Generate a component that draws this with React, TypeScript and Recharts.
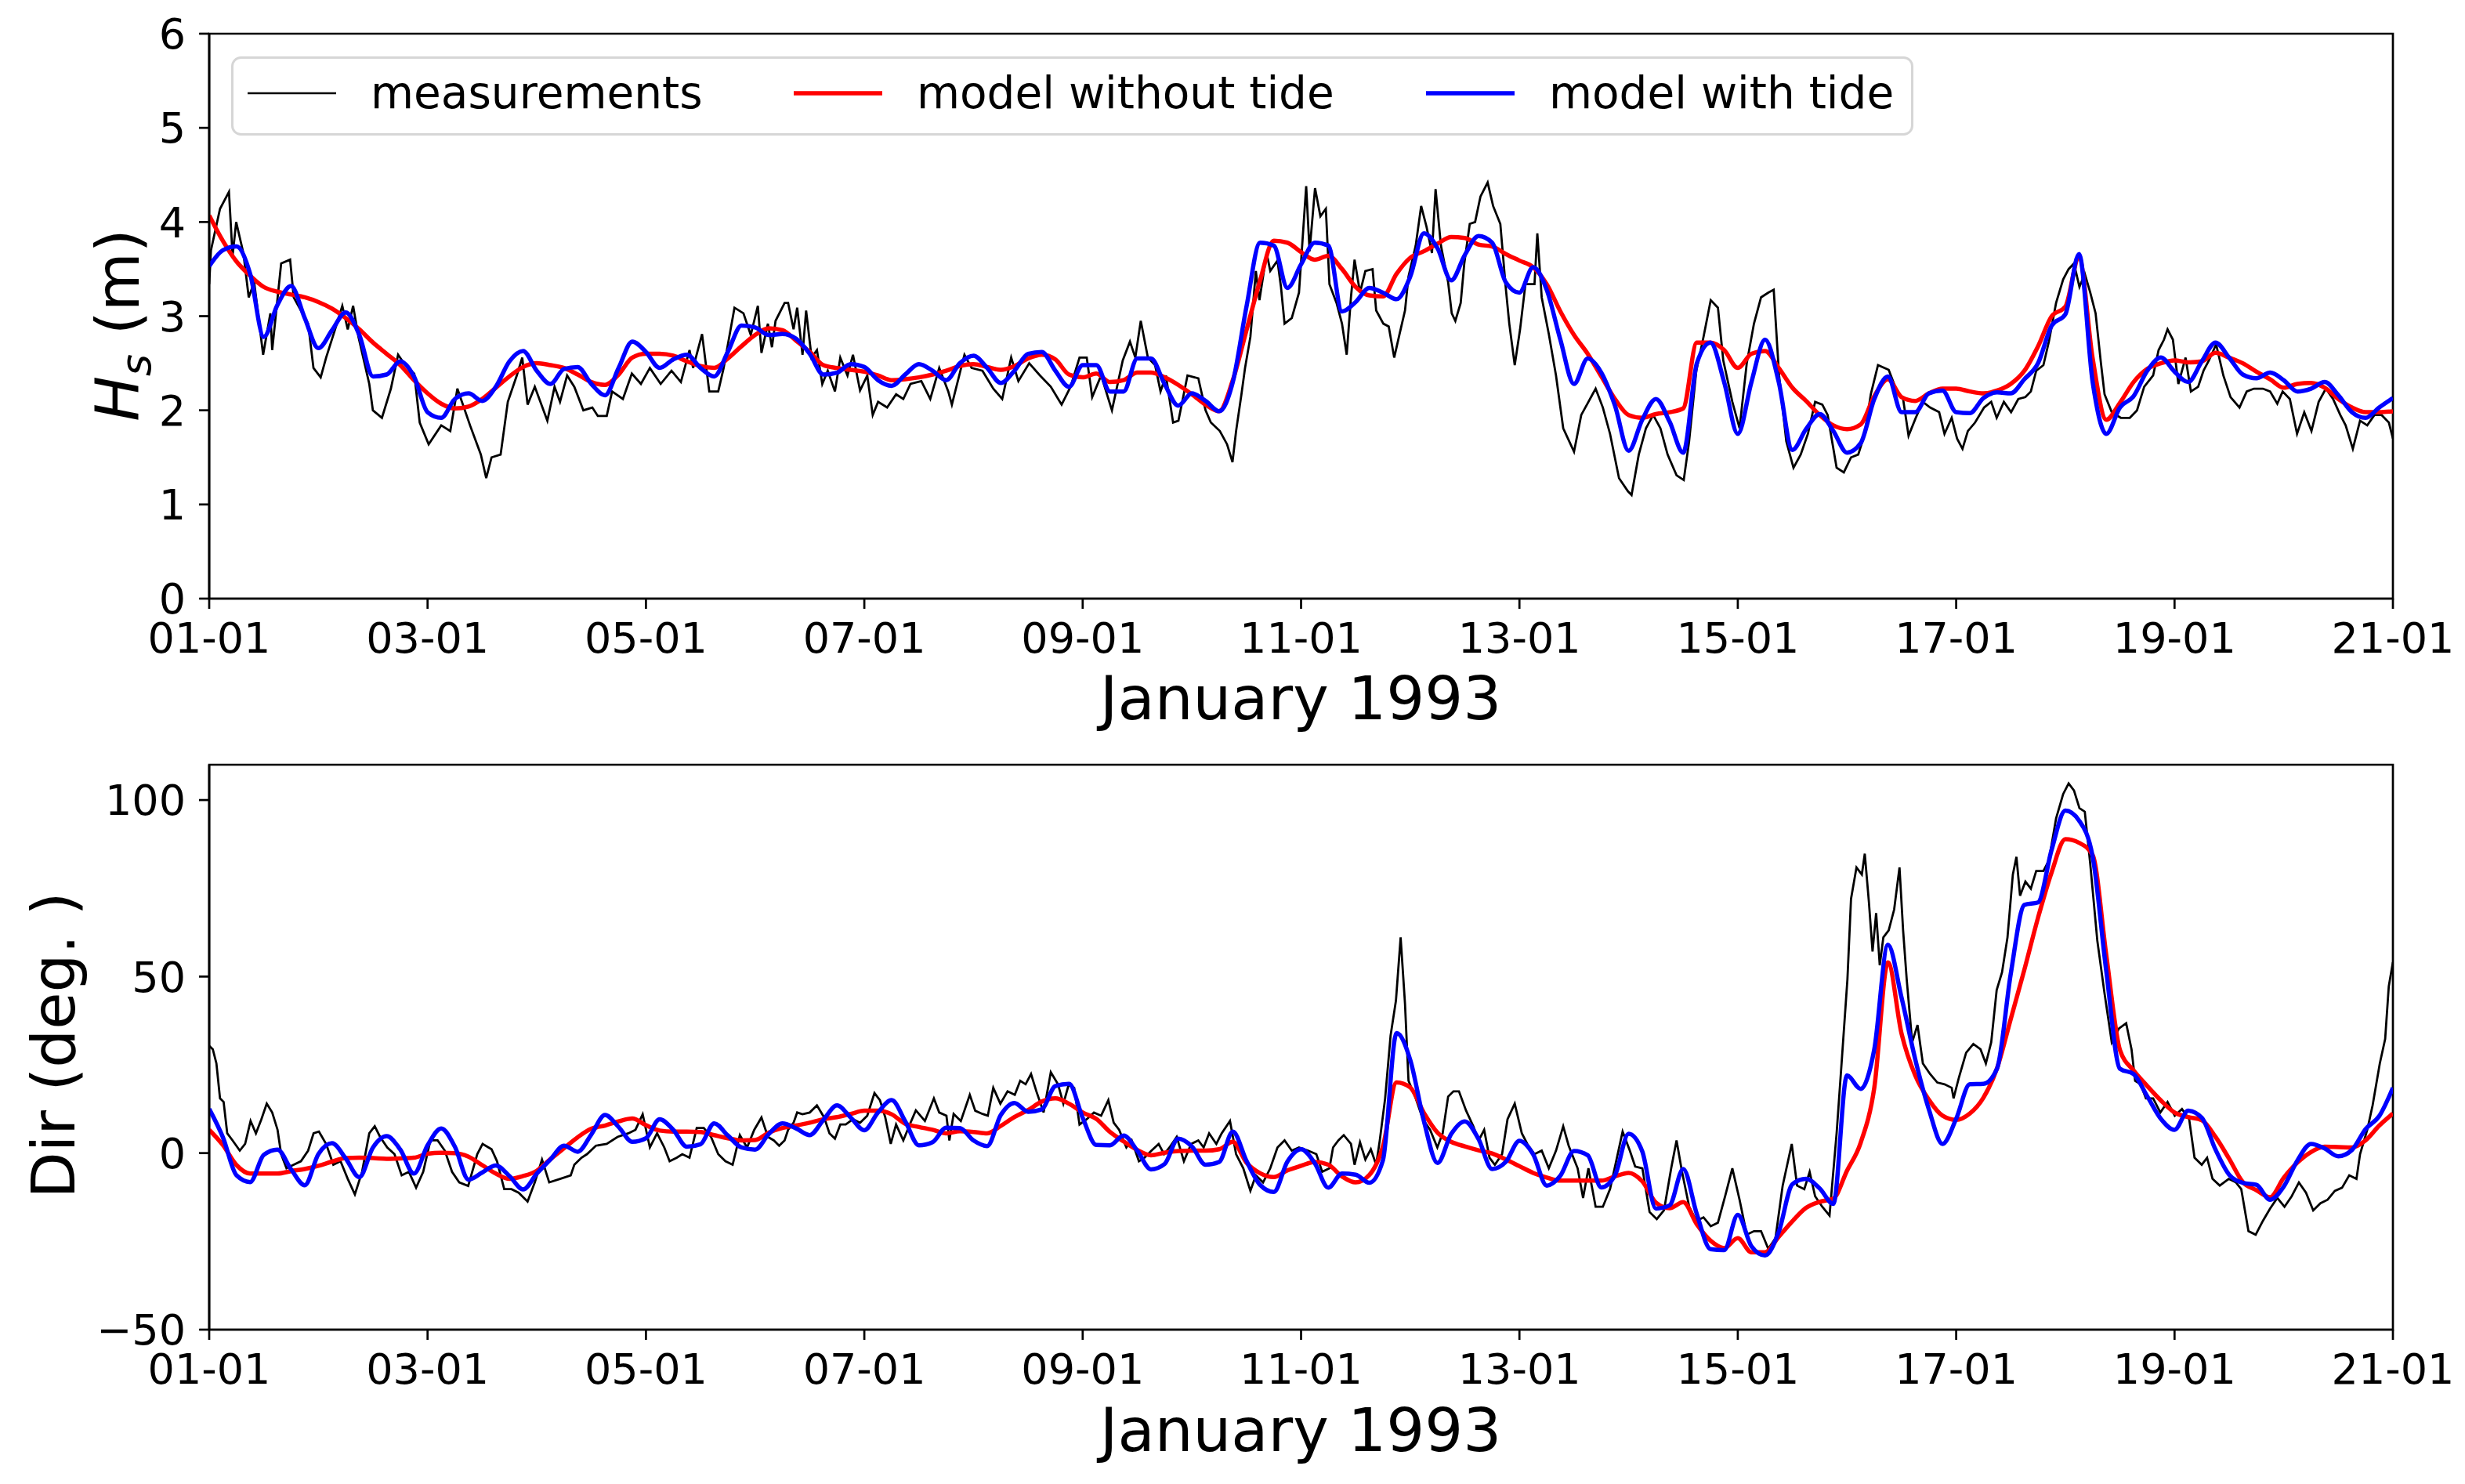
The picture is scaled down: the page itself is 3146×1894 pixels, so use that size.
import React from "react";
import { LineChart, Line, XAxis, YAxis, ReferenceArea, Legend } from "recharts";

// Buoy record vs. wave model, 1–21 January 1993.
// Time axis is in days since 01-01 00:00. Model output every 3 hours,
// observations as [day, value] readings of the buoy trace.
const STEP_DAYS = 0.125;

// Significant wave height Hs (m), observed
const hsObs: [number, number][] = [
  [0, 3.34], [0.016, 3.7], [0.099, 4.14], [0.181, 4.32], [0.214, 3.64], [0.247, 4.0], [0.313, 3.67],
  [0.362, 3.2], [0.412, 3.36], [0.494, 2.59], [0.56, 3.03], [0.577, 2.64], [0.659, 3.56], [0.741, 3.6],
  [0.774, 3.2], [0.906, 2.92], [0.955, 2.45], [1.021, 2.35], [1.071, 2.56], [1.153, 2.86], [1.219, 3.11],
  [1.269, 2.86], [1.318, 3.11], [1.367, 2.78], [1.466, 2.28], [1.499, 2.0], [1.582, 1.92], [1.664, 2.23],
  [1.73, 2.59], [1.796, 2.48], [1.878, 2.39], [1.928, 1.87], [2.01, 1.64], [2.125, 1.84], [2.208, 1.78],
  [2.273, 2.23], [2.389, 1.84], [2.488, 1.53], [2.537, 1.28], [2.586, 1.5], [2.669, 1.53], [2.735, 2.09],
  [2.817, 2.37], [2.867, 2.56], [2.916, 2.06], [2.982, 2.25], [3.097, 1.89], [3.163, 2.25], [3.213, 2.09],
  [3.278, 2.37], [3.344, 2.25], [3.427, 2.0], [3.509, 2.03], [3.559, 1.94], [3.641, 1.94], [3.69, 2.2],
  [3.789, 2.12], [3.871, 2.39], [3.954, 2.28], [4.036, 2.45], [4.135, 2.28], [4.234, 2.42], [4.32, 2.3],
  [4.399, 2.64], [4.432, 2.45], [4.514, 2.81], [4.58, 2.2], [4.662, 2.2], [4.712, 2.45], [4.811, 3.09],
  [4.893, 3.03], [4.96, 2.8], [5.025, 3.11], [5.058, 2.61], [5.117, 2.92],
  [5.154, 2.67], [5.187, 2.95], [5.27, 3.14], [5.302, 3.14], [5.352, 2.86], [5.385, 3.09], [5.434, 2.59],
  [5.467, 3.06], [5.517, 2.56], [5.566, 2.64], [5.615, 2.28], [5.665, 2.42], [5.731, 2.2], [5.78, 2.56],
  [5.846, 2.37], [5.896, 2.59], [5.961, 2.21], [6.027, 2.37], [6.077, 1.95], [6.126, 2.09], [6.209, 2.03],
  [6.291, 2.17], [6.357, 2.12], [6.423, 2.28], [6.522, 2.31], [6.604, 2.12], [6.686, 2.45], [6.769, 2.2],
  [6.802, 2.06], [6.917, 2.59], [6.983, 2.45], [7.082, 2.42], [7.181, 2.23], [7.263, 2.12], [7.345, 2.56],
  [7.411, 2.31], [7.51, 2.5], [7.609, 2.37], [7.708, 2.25], [7.807, 2.06], [7.889, 2.25], [7.971, 2.56],
  [8.037, 2.56], [8.087, 2.14], [8.169, 2.37], [8.268, 2.0], [8.367, 2.53], [8.433, 2.73], [8.482, 2.56],
  [8.532, 2.95], [8.597, 2.56], [8.663, 2.48], [8.713, 2.2], [8.762, 2.37], [8.828, 1.87], [8.877, 1.89],
  [8.96, 2.37], [9.059, 2.34], [9.125, 2.0], [9.174, 1.87], [9.256, 1.78], [9.322, 1.64], [9.372, 1.45],
  [9.405, 1.78], [9.454, 2.17], [9.487, 2.45], [9.536, 2.78], [9.586, 3.48], [9.619, 3.17], [9.685, 3.67],
  [9.718, 3.48], [9.784, 3.59], [9.816, 3.31], [9.849, 2.92], [9.915, 2.98], [9.981, 3.25], [10.047, 4.38],
  [10.078, 3.69], [10.128, 4.36],
  [10.177, 4.06], [10.227, 4.14], [10.26, 3.34], [10.325, 3.14], [10.375, 2.92], [10.418, 2.59],
  [10.457, 3.2], [10.49, 3.6], [10.54, 3.25], [10.589, 3.48], [10.655, 3.5], [10.688, 3.06], [10.754, 2.92],
  [10.803, 2.89], [10.853, 2.56], [10.902, 2.81], [10.952, 3.06], [10.984, 3.42], [11.05, 3.75], [11.1, 4.17],
  [11.149, 3.95], [11.199, 3.67], [11.232, 4.35], [11.281, 3.75], [11.347, 3.36], [11.38, 3.03], [11.413, 2.95],
  [11.462, 3.14], [11.495, 3.56], [11.545, 3.98], [11.594, 4.0], [11.643, 4.27], [11.709, 4.42], [11.759, 4.17],
  [11.825, 3.98], [11.874, 3.31], [11.907, 2.92], [11.957, 2.48], [12.006, 2.86], [12.055, 3.34], [12.138, 3.34],
  [12.164, 3.88], [12.204, 3.2], [12.269, 2.81], [12.335, 2.37], [12.401, 1.81], [12.5, 1.56], [12.566, 1.95],
  [12.632, 2.09], [12.698, 2.23], [12.764, 2.03], [12.83, 1.75], [12.912, 1.28], [12.994, 1.14], [13.027, 1.1],
  [13.093, 1.53], [13.159, 1.81], [13.225, 1.95], [13.291, 1.81], [13.357, 1.53], [13.439, 1.31], [13.505, 1.26],
  [13.554, 1.67], [13.62, 2.42], [13.686, 2.78], [13.752, 3.17], [13.818, 3.09], [13.867, 2.53], [13.95, 2.09],
  [14.016, 1.81], [14.082, 2.5], [14.148, 2.92], [14.213, 3.2], [14.279, 3.25], [14.329, 3.28], [14.378, 2.37],
  [14.444, 1.67], [14.51, 1.39], [14.576, 1.53], [14.642, 1.75], [14.708, 2.09], [14.774, 2.06], [14.823, 1.95],
  [14.905, 1.39], [14.971, 1.34], [15.037, 1.5], [15.103, 1.53], [15.163, 1.75],
  [15.218, 2.17], [15.284, 2.48], [15.382, 2.43], [15.448, 2.23], [15.514, 2.12], [15.564, 1.73],
  [15.63, 1.92], [15.695, 2.09], [15.761, 2.03], [15.844, 1.98], [15.893, 1.75], [15.959, 1.92], [16.008, 1.7],
  [16.058, 1.59], [16.107, 1.78], [16.173, 1.87], [16.256, 2.03], [16.321, 2.09], [16.371, 1.92], [16.437, 2.09],
  [16.503, 1.98], [16.569, 2.12], [16.634, 2.14], [16.684, 2.2], [16.733, 2.42], [16.799, 2.48], [16.849, 2.73],
  [16.915, 3.14], [16.98, 3.39], [17.03, 3.5], [17.079, 3.56], [17.129, 3.31], [17.178, 3.45], [17.228, 3.25],
  [17.277, 3.03], [17.326, 2.5], [17.359, 2.17], [17.425, 1.98], [17.508, 1.92], [17.59, 1.92], [17.656, 2.0],
  [17.722, 2.25], [17.804, 2.37], [17.854, 2.64], [17.903, 2.75], [17.936, 2.86], [17.985, 2.75], [18.035, 2.28],
  [18.101, 2.56], [18.15, 2.2], [18.216, 2.25], [18.265, 2.42], [18.315, 2.53], [18.381, 2.7], [18.447, 2.37],
  [18.513, 2.14], [18.595, 2.03], [18.661, 2.2], [18.727, 2.23], [18.809, 2.23], [18.875, 2.2], [18.941, 2.07],
  [18.99, 2.2], [19.056, 2.12], [19.122, 1.75], [19.188, 1.98], [19.254, 1.78], [19.32, 2.09], [19.386, 2.23],
  [19.452, 2.12], [19.518, 1.95], [19.567, 1.84], [19.633, 1.59], [19.699, 1.89], [19.765, 1.84], [19.831, 1.95],
  [19.897, 1.95], [19.963, 1.87], [20.0, 1.7],
];

// Hs (m), model without tide, 3-hourly
const hsNoTide = [
  4.07, 3.8, 3.58, 3.43, 3.31, 3.26, 3.23, 3.2, 3.15, 3.08,
  2.98, 2.86, 2.72, 2.6, 2.48, 2.32, 2.18, 2.07, 2.02, 2.04,
  2.12, 2.24, 2.36, 2.46, 2.5, 2.48, 2.45, 2.38, 2.3, 2.27,
  2.38, 2.56, 2.6, 2.6, 2.58, 2.52, 2.47, 2.45, 2.55, 2.68,
  2.8,
  2.87, 2.85, 2.74, 2.62, 2.48, 2.45, 2.43, 2.41, 2.37, 2.32,
  2.33, 2.35, 2.38, 2.42, 2.47, 2.49, 2.46, 2.43, 2.47, 2.55,
  2.59, 2.54, 2.38, 2.35, 2.39, 2.3, 2.32, 2.4, 2.4, 2.35,
  2.27, 2.17, 2.06, 1.99, 2.32, 2.85, 3.38, 3.8, 3.78, 3.68,
  3.6, 3.64, 3.5, 3.31, 3.22, 3.21, 3.45, 3.62, 3.69, 3.77,
  3.84, 3.83, 3.76, 3.74, 3.66, 3.59, 3.52, 3.34, 3.05, 2.8,
  2.6, 2.36, 2.12, 1.95, 1.92, 1.96, 1.98, 2.02, 2.72, 2.72,
  2.64, 2.45, 2.6, 2.63, 2.45, 2.24, 2.1, 1.95, 1.84, 1.8,
  1.85, 2.15, 2.33, 2.14, 2.1, 2.18, 2.23, 2.23, 2.2, 2.18,
  2.21, 2.28, 2.42, 2.68, 3.0, 3.1, 3.62, 2.55, 1.9, 2.08,
  2.3, 2.44, 2.5, 2.53, 2.51, 2.52, 2.61, 2.56, 2.5, 2.41,
  2.33, 2.24, 2.28, 2.29, 2.24, 2.12, 2.03, 1.98, 1.98, 1.99,
];

// Hs (m), model with tide, 3-hourly
const hsTide = [
  3.53, 3.7, 3.74, 3.45, 2.78, 3.12, 3.32, 2.98, 2.66, 2.85,
  3.04, 2.8, 2.36, 2.38, 2.52, 2.36, 1.98, 1.92, 2.12, 2.18,
  2.1, 2.25, 2.52, 2.63, 2.42, 2.28, 2.44, 2.46, 2.28, 2.16,
  2.45, 2.73, 2.62, 2.45, 2.54, 2.59, 2.45, 2.36, 2.62, 2.9,
  2.88,
  2.8, 2.81, 2.76, 2.6, 2.38, 2.4, 2.49, 2.46, 2.32, 2.26,
  2.38, 2.49, 2.42, 2.32, 2.5, 2.58, 2.45, 2.29, 2.42, 2.6,
  2.62, 2.42, 2.25, 2.48, 2.48, 2.2, 2.2, 2.55, 2.55, 2.28,
  2.05, 2.18, 2.1, 1.99, 2.3, 3.1, 3.78, 3.75, 3.3, 3.55,
  3.78, 3.75, 3.05, 3.15, 3.3, 3.25, 3.18, 3.42, 3.88, 3.72,
  3.38, 3.65, 3.85, 3.78, 3.36, 3.25, 3.52, 3.28, 2.75, 2.28,
  2.55, 2.4, 2.05, 1.57, 1.9, 2.12, 1.88, 1.55, 2.5, 2.72,
  2.3, 1.75, 2.3, 2.75, 2.3, 1.58, 1.8, 1.96, 1.78, 1.55,
  1.65, 2.12, 2.36, 1.98, 1.98, 2.18, 2.21, 1.98, 1.97, 2.13,
  2.19, 2.18, 2.33, 2.5, 2.9, 3.02, 3.66, 2.3, 1.75, 2.03,
  2.15, 2.42, 2.56, 2.41, 2.3, 2.52, 2.72, 2.56, 2.38, 2.34,
  2.4, 2.32, 2.2, 2.23, 2.3, 2.16, 1.98, 1.92, 2.03, 2.13,
];

// Mean wave direction (deg.), observed
const dirObs: [number, number][] = [
  [0, 30.4], [0.033, 29.4], [0.066, 25.4], [0.099, 15.5], [0.132, 14.5], [0.165, 5.6], [0.214, 3.6],
  [0.28, 0.7], [0.329, 2.6], [0.379, 9.1], [0.428, 5.6], [0.478, 9.6], [0.527, 14.0], [0.577, 11.5],
  [0.626, 6.6], [0.659, -0.3], [0.708, -4.3], [0.774, -3.3], [0.84, -2.3], [0.906, 0.7], [0.956, 5.6],
  [1.005, 6.1], [1.071, 2.6], [1.137, -3.3], [1.203, -2.3], [1.269, -7.3], [1.334, -11.7], [1.4, -5.3],
  [1.466, 5.6], [1.516, 7.6], [1.565, 4.6], [1.631, 1.6], [1.697, -0.3], [1.763, -6.3], [1.829, -5.3],
  [1.895, -9.8], [1.96, -5.3], [2.026, 3.6], [2.092, 3.6], [2.158, 0.7], [2.224, -5.3], [2.29, -8.3],
  [2.372, -9.3], [2.455, -0.3], [2.504, 2.6], [2.586, 1.1], [2.636, -2.3], [2.702, -10.2], [2.768, -10.2],
  [2.834, -11.2], [2.916, -13.7], [2.982, -8.3], [3.048, -1.8], [3.114, -8.3], [3.213, -7.3], [3.311, -6.3],
  [3.344, -3.3], [3.41, -1.3], [3.46, -0.3], [3.542, 2.1], [3.641, 2.6], [3.74, 4.6], [3.839, 5.6],
  [3.904, 6.6], [3.97, 11.0], [4.036, 1.6], [4.102, 5.6], [4.168, 1.6], [4.217, -2.3], [4.283, -1.3],
  [4.333, -0.3], [4.399, -1.3], [4.465, 7.1], [4.53, 7.1], [4.596, 4.6], [4.662, -0.3], [4.728, -2.3],
  [4.794, -3.3], [4.86, 5.1], [4.926, 1.6], [4.992, 6.6], [5.058, 10.1], [5.117, 4.6],
  [5.171, 3.6], [5.22, 2.1], [5.27, 3.6], [5.302, 6.6], [5.352, 8.6], [5.385, 11.5], [5.434, 11.0],
  [5.5, 11.5], [5.566, 13.5], [5.632, 10.1], [5.681, 5.6], [5.731, 4.1], [5.78, 8.1], [5.83, 8.1],
  [5.896, 9.6], [5.961, 8.6], [6.027, 10.6], [6.093, 17.0], [6.143, 15.0], [6.192, 10.1], [6.242, 2.6],
  [6.291, 8.1], [6.357, 3.6], [6.423, 8.6], [6.472, 12.1], [6.555, 9.1], [6.637, 15.5], [6.686, 11.5],
  [6.752, 10.6], [6.779, 3.6], [6.818, 11.1], [6.884, 9.1], [6.966, 16.5], [7.016, 12.0], [7.082, 11.1],
  [7.131, 10.6], [7.181, 18.5], [7.246, 14.0], [7.312, 17.5], [7.378, 16.5], [7.428, 20.5], [7.477, 19.5],
  [7.527, 22.4], [7.576, 17.5], [7.642, 11.5], [7.708, 22.9], [7.774, 19.5], [7.823, 14.0], [7.873, 19.5],
  [7.922, 18.5], [7.971, 8.1], [8.037, 9.6], [8.103, 11.5], [8.169, 10.6], [8.235, 15.0], [8.284, 8.6],
  [8.334, 6.6], [8.4, 1.6], [8.449, 3.6], [8.515, -2.3], [8.565, -1.3], [8.63, 0.7], [8.696, 2.6],
  [8.746, -0.3], [8.795, 1.6], [8.861, 4.6], [8.927, -2.3], [8.993, 2.6], [9.059, 3.6], [9.108, 1.6],
  [9.158, 5.6], [9.224, 2.6], [9.273, 5.6], [9.349, 9.1], [9.405, -0.3], [9.471, -4.3], [9.536, -10.7],
  [9.586, -6.3], [9.652, -8.3], [9.718, -4.3], [9.784, 1.6], [9.849, 3.6], [9.915, 0.7], [9.981, 1.6],
  [10.064, 0.7], [10.14, -0.3],
  [10.194, -5.3], [10.26, -4.3], [10.293, 1.6], [10.342, 3.6], [10.391, 5.1], [10.457, 2.6], [10.49, -3.3],
  [10.54, 3.1], [10.589, -1.8], [10.639, 1.1], [10.688, -3.3], [10.721, 3.6], [10.77, 15.5], [10.82, 33.3],
  [10.869, 43.2], [10.912, 61.1], [10.952, 42.3], [10.984, 20.5], [11.05, 15.5], [11.116, 9.6], [11.182, 6.6],
  [11.248, 1.6], [11.297, 5.6], [11.347, 16.0], [11.396, 17.5], [11.446, 17.5], [11.512, 12.0], [11.578, 7.6],
  [11.627, 3.6], [11.677, 6.6], [11.726, -1.3], [11.775, -3.3], [11.841, -0.3], [11.891, 9.6], [11.957, 14.0],
  [12.022, 5.6], [12.072, 2.6], [12.138, -0.3], [12.204, 0.7], [12.269, -4.3], [12.335, 0.7], [12.401, 7.6],
  [12.451, 2.1], [12.533, -4.3], [12.583, -12.7], [12.632, -4.3], [12.698, -15.2], [12.764, -15.2],
  [12.83, -10.2], [12.879, -3.3], [12.945, 6.1], [13.011, 0.7], [13.06, -3.8], [13.126, -4.3], [13.192, -16.7],
  [13.258, -18.7], [13.324, -16.2], [13.39, -4.3], [13.439, 3.6], [13.489, -5.3], [13.555, -15.2], [13.62, -19.2],
  [13.686, -18.2], [13.752, -20.7], [13.818, -19.7], [13.884, -12.2], [13.95, -4.3], [14.016, -13.2],
  [14.082, -23.1], [14.148, -22.1], [14.213, -22.1], [14.279, -27.1], [14.345, -24.1], [14.411, -9.2],
  [14.494, 2.6], [14.543, -9.2], [14.609, -10.2], [14.658, -5.3], [14.708, -12.2], [14.774, -15.2],
  [14.84, -17.7], [14.905, 5.6], [14.955, 27.4], [15.004, 49.2], [15.037, 72.0], [15.087, 80.9],
  [15.136, 78.9], [15.163, 84.8],
  [15.201, 71.0], [15.234, 57.1], [15.267, 68.0], [15.3, 53.2], [15.333, 61.1], [15.382, 63.1], [15.432, 69.0],
  [15.481, 80.9], [15.514, 63.1], [15.547, 49.2], [15.597, 31.4], [15.646, 36.3], [15.695, 25.4], [15.761, 22.4],
  [15.827, 20.0], [15.893, 19.5], [15.959, 18.5], [15.976, 15.5], [16.025, 21.4], [16.091, 28.4], [16.157, 30.9],
  [16.223, 29.4], [16.272, 25.4], [16.321, 31.4], [16.371, 46.2], [16.42, 51.2], [16.47, 61.1], [16.519, 78.9],
  [16.552, 83.9], [16.585, 72.9], [16.634, 76.9], [16.684, 74.9], [16.733, 79.9], [16.799, 79.9], [16.849, 82.9],
  [16.915, 94.8], [16.98, 101.7], [17.03, 104.7], [17.079, 102.7], [17.129, 97.7], [17.178, 96.7], [17.228, 81.9],
  [17.293, 60.1], [17.359, 45.2], [17.425, 31.4], [17.491, 35.3], [17.557, 36.8], [17.606, 29.4], [17.639, 20.5],
  [17.689, 19.5], [17.738, 15.5], [17.804, 15.5], [17.87, 11.5], [17.936, 14.5], [18.002, 10.6], [18.068, 12.5],
  [18.134, 9.6], [18.183, -1.3], [18.249, -3.3], [18.298, -1.3], [18.348, -7.3], [18.414, -9.2], [18.496, -7.3],
  [18.562, -8.3], [18.611, -10.2], [18.677, -22.1], [18.743, -23.1], [18.809, -19.2], [18.875, -15.7],
  [18.941, -12.7], [19.007, -15.2], [19.073, -12.2], [19.139, -8.3], [19.204, -11.2], [19.27, -16.2],
  [19.336, -14.2], [19.402, -13.2], [19.468, -10.7], [19.534, -9.8], [19.6, -6.3], [19.666, -7.3],
  [19.699, -0.3], [19.765, 6.6], [19.814, 13.5], [19.88, 25.4], [19.929, 32.3], [19.962, 47.2], [20.0, 54.1],
];

// Direction (deg.), model without tide, 3-hourly
const dirNoTide = [
  6.6, 2.3, -3.4, -5.8, -5.8, -5.8, -5.1, -4.5, -3.6, -2.4,
  -1.4, -1.3, -1.4, -1.6, -1.5, -1.3, -0.2, 0.1, 0.0, -1.0,
  -3.4, -5.8, -7.3, -6.5, -5.0, -1.7, 1.4, 4.5, 6.9, 7.8,
  9.0, 9.8, 7.9, 6.4, 6.1, 6.1, 6.0, 5.1, 4.2, 3.6,
  3.7,
  5.8, 7.1, 7.8, 8.6, 9.6, 10.2, 11.1, 12.0, 12.0, 11.0,
  8.3, 7.4, 6.6, 5.6, 6.2, 6.0, 5.6, 7.7, 10.2, 12.2,
  14.6, 15.5, 14.0, 11.5, 9.7, 6.0, 3.3, 0.9, -0.6, 0.1,
  0.6, 0.7, 0.7, 1.1, 3.2, -2.7, -5.7, -6.8, -4.9, -3.6,
  -2.5, -3.3, -6.6, -8.3, -6.2, 1.9, 20, 18.6, 11.4, 5.8,
  3.2, 1.9, 0.8, -0.1, -1.8, -3.7, -5.6, -6.9, -7.8, -7.8,
  -7.8, -7.8, -6.6, -5.6, -8.0, -14.0, -15.6, -13.9, -20.2, -24.8,
  -26.9, -24.1, -28.1, -28.1, -23.7, -19.3, -15.5, -13.8, -12.9, -5.0,
  2.9, 18.5, 54, 33.8, 22.0, 15.1, 10.6, 9.4, 11.2, 15.7,
  24.1, 38.0, 52, 66.7, 79.6, 88.9, 87.9, 84.4, 56, 29.2,
  23.4, 19, 14.9, 11.5, 10.2, 9.3, 4.6, -1.6, -8.2, -10.5,
  -12.5, -7.0, -2.7, 0.3, 1.8, 1.7, 1.6, 3.6, 7.8, 11.2,
];

// Direction (deg.), model with tide, 3-hourly
const dirTide = [
  12.5, 4.5, -6.3, -8.2, -0.5, 1.0, -4.6, -9.1, -0.3, 2.8,
  -1.5, -6.8, 1.6, 4.8, 1.0, -5.8, 2.2, 7.0, 1.8, -7.5,
  -5.5, -3.5, -6.5, -10.3, -5.8, -1.8, 2.1, 0.4, 5.3, 10.8,
  7.4, 3.2, 4.2, 9.6, 6.6, 1.8, 2.5, 8.4, 5.0, 1.6,
  1.0,
  5.4, 8.4, 7.0, 5.1, 9.4, 13.5, 10.1, 6.5, 11.5, 15.0,
  9.0, 2.2, 3.1, 7.2, 7.1, 3.6, 2.0, 10.8, 14.2, 11.7,
  12.4, 19.0, 19.6, 10.0, 2.3, 2.2, 5.0, 0.7, -4.6, -3.1,
  4.1, 1.9, -3.3, -2.5, 6.1, -2.2, -9.0, -11.0, -2.4, 1.1,
  -2.8, -9.8, -5.8, -6.1, -8.4, -2, 34, 26.4, 9.1, -2.8,
  5.4, 9.0, 4.0, -4.5, -2.5, 3.5, -0.3, -9.2, -6.4, 0.6,
  -0.6, -9.7, -6.3, 5.5, 0.5, -15.7, -14.8, -4.5, -17.3, -27.2,
  -27.5, -17.5, -26.4, -29.0, -22.3, -8.8, -7.3, -10, -14.4, 22,
  18.2, 29.4, 59, 44, 26.6, 12.4, 2.6, 9.7, 19.5, 19.6,
  24, 50.8, 70.3, 71, 86, 97, 94.2, 84.0, 51.5, 23.9,
  22.4, 16.1, 9.7, 6.6, 12.0, 10.0, 1.0, -6.1, -8.4, -9.0,
  -13.2, -9.5, -2.1, 2.6, 1.3, -0.9, 0.9, 6.8, 10.5, 18.5,
];

const tickDays = [0, 2, 4, 6, 8, 10, 12, 14, 16, 18, 20];
const tickDates = ["01-01", "03-01", "05-01", "07-01", "09-01", "11-01", "13-01", "15-01", "17-01", "19-01", "21-01"];
const hsTicks = [0, 1, 2, 3, 4, 5, 6];
const dirTicks = [-50, 0, 50, 100];

const seriesNames = ["measurements", "model without tide", "model with tide"];

type ModelRow = { day: number; noTide: number; withTide: number };
type ObsRow = { day: number; measured: number };

const modelDays = hsNoTide.map((_, i) => i * STEP_DAYS);

const hsModelRows: ModelRow[] = modelDays.map((day, i) => ({ day, noTide: hsNoTide[i], withTide: hsTide[i] }));
const dirModelRows: ModelRow[] = modelDays.map((day, i) => ({ day, noTide: dirNoTide[i], withTide: dirTide[i] }));
const hsObsRows: ObsRow[] = hsObs.map(([day, measured]) => ({ day, measured }));
const dirObsRows: ObsRow[] = dirObs.map(([day, measured]) => ({ day, measured }));

const FONT = "DejaVu Sans";
const INK = "#000000";
const RED = "#ff0000";
const BLUE = "#0000ff";
const AXIS_W = 2.7;

const CHART_W = 3146;
const CHART_H = 950;
const Y_AXIS_W = 150;
const X_AXIS_H = 100;
// plot area: x 267..3054, y 43..764 inside each chart box
const MARGIN = { top: 43, right: 92, bottom: 186 - X_AXIS_H, left: 267 - Y_AXIS_W };

const tickStyle = { fontSize: 54, fill: INK, fontFamily: FONT };

const dateLabel = (d: number) => tickDates[tickDays.indexOf(d)] ?? "";
const minusLabel = (v: number) => (v < 0 ? `\u2212${Math.abs(v)}` : `${v}`);

const legendStyle = [
  { color: INK, width: 2.6 },
  { color: RED, width: 5.5 },
  { color: BLUE, width: 5.5 },
];
const LEGEND_W = 2147;
const LEGEND_H = 101;
const legendHandleX = [21, 718, 1525];

function HsLegend() {
  return (
    <svg width={LEGEND_W} height={LEGEND_H} style={{ display: "block" }}>
      <rect
        x={1.5}
        y={1.5}
        width={LEGEND_W - 3}
        height={LEGEND_H - 3}
        rx={11}
        fill="#ffffff"
        fillOpacity={0.8}
        stroke="#d6d6d6"
        strokeWidth={3}
      />
      {seriesNames.map((name, i) => (
        <g key={name}>
          <line
            x1={legendHandleX[i]}
            x2={legendHandleX[i] + 113}
            y1={47}
            y2={47}
            stroke={legendStyle[i].color}
            strokeWidth={legendStyle[i].width}
          />
          <text x={legendHandleX[i] + 157} y={66} fontSize={56.5} fontFamily={FONT} fill={INK}>
            {name}
          </text>
        </g>
      ))}
    </svg>
  );
}

type PanelProps = {
  modelRows: ModelRow[];
  obsRows: ObsRow[];
  yDomain: [number, number];
  yTicks: number[];
  yFormat?: (v: number) => string;
  legend?: boolean;
};

function Panel({ modelRows, obsRows, yDomain, yTicks, yFormat, legend }: PanelProps) {
  return (
    <LineChart width={CHART_W} height={CHART_H} data={modelRows} margin={MARGIN}>
      <XAxis
        dataKey="day"
        type="number"
        domain={[0, 20]}
        ticks={tickDays}
        interval={0}
        tickFormatter={dateLabel}
        height={X_AXIS_H}
        tick={tickStyle}
        tickSize={13}
        tickMargin={18}
        tickLine={{ stroke: INK, strokeWidth: AXIS_W }}
        axisLine={{ stroke: INK, strokeWidth: AXIS_W }}
        allowDataOverflow
      />
      <YAxis
        type="number"
        domain={yDomain}
        ticks={yTicks}
        interval={0}
        tickFormatter={yFormat}
        width={Y_AXIS_W}
        tick={tickStyle}
        tickSize={13}
        tickMargin={17}
        tickLine={{ stroke: INK, strokeWidth: AXIS_W }}
        axisLine={{ stroke: INK, strokeWidth: AXIS_W }}
        allowDataOverflow
      />
      <ReferenceArea
        x1={0}
        x2={20}
        y1={yDomain[0]}
        y2={yDomain[1]}
        fill="none"
        stroke={INK}
        strokeWidth={AXIS_W}
        ifOverflow="visible"
      />
      <Line
        data={obsRows}
        dataKey="measured"
        type="linear"
        stroke={INK}
        strokeWidth={2.8}
        strokeLinejoin="miter"
        dot={false}
        activeDot={false}
        isAnimationActive={false}
      />
      <Line
        dataKey="noTide"
        type="monotone"
        stroke={RED}
        strokeWidth={5.5}
        dot={false}
        activeDot={false}
        isAnimationActive={false}
      />
      <Line
        dataKey="withTide"
        type="monotone"
        stroke={BLUE}
        strokeWidth={5.5}
        dot={false}
        activeDot={false}
        isAnimationActive={false}
      />
      {legend && (
        <Legend
          layout="horizontal"
          verticalAlign="middle"
          align="center"
          content={() => <HsLegend />}
          wrapperStyle={{ left: 295, top: 72, width: LEGEND_W, height: LEGEND_H, margin: 0, padding: 0 }}
        />
      )}
    </LineChart>
  );
}

const titleStyle: React.CSSProperties = {
  position: "absolute",
  fontFamily: FONT,
  fontSize: 77,
  lineHeight: 1,
  color: INK,
  whiteSpace: "nowrap",
};

export default function App() {
  return (
    <div
      style={{
        position: "absolute",
        left: 0,
        top: 0,
        width: 3146,
        height: 1894,
        background: "#ffffff",
        overflow: "hidden",
      }}
    >
      <div style={{ position: "absolute", left: 0, top: 0 }}>
        <Panel modelRows={hsModelRows} obsRows={hsObsRows} yDomain={[0, 6]} yTicks={hsTicks} legend />
      </div>
      <div style={{ position: "absolute", left: 0, top: 933 }}>
        <Panel
          modelRows={dirModelRows}
          obsRows={dirObsRows}
          yDomain={[-50, 110]}
          yTicks={dirTicks}
          yFormat={minusLabel}
        />
      </div>

      <div style={{ ...titleStyle, left: 1660, top: 853, transform: "translateX(-50%)" }}>January 1993</div>
      <div style={{ ...titleStyle, left: 1660, top: 1787, transform: "translateX(-50%)" }}>January 1993</div>

      <div
        style={{
          ...titleStyle,
          left: 150,
          top: 415,
          transform: "translate(-50%, -50%) rotate(-90deg)",
        }}
      >
        <span style={{ fontStyle: "italic" }}>H</span>
        <span style={{ fontSize: "0.7em", fontStyle: "italic", position: "relative", top: "0.28em" }}>s</span> (m)
      </div>
      <div
        style={{
          ...titleStyle,
          left: 68,
          top: 1334,
          transform: "translate(-50%, -50%) rotate(-90deg)",
        }}
      >
        Dir (deg. )
      </div>
    </div>
  );
}
